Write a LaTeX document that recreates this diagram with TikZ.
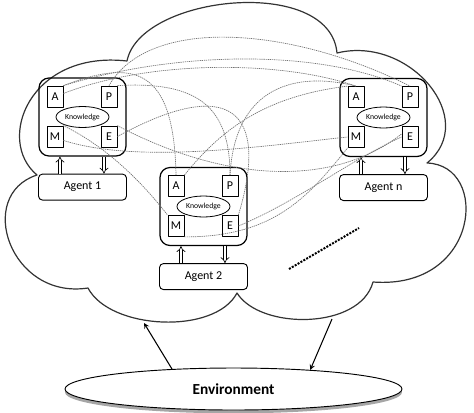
\documentclass[tikz,border=0pt]{standalone}
\usepackage{fontspec}
\setmainfont{Carlito}
\usetikzlibrary{positioning,shapes.geometric,arrows.meta,shadows}

\begin{document}
\begin{tikzpicture}[x=0.75pt, y=-0.75pt, line join=round, >=stealth, font=\small,
	module/.style={draw, line width=0.9pt, rounded corners=7.5pt, minimum width=65.25pt, minimum height=58.5pt},
	part/.style={draw, line width=0.6pt, minimum width=12pt, minimum height=15.75pt, inner sep=0pt, font=\fontsize{9}{9}\selectfont},
	know/.style={draw, ellipse, line width=0.6pt, minimum width=39.75pt, minimum height=15.75pt, inner sep=0pt, font=\fontsize{5.8}{6}\selectfont},
	agentbox/.style={draw, line width=0.7pt, rounded corners=3pt, minimum width=66pt, minimum height=19.5pt, font=\fontsize{9}{9}\selectfont},
	hollow/.style={double, double distance=1.8pt, line width=0.5pt, -{Implies}},
	link/.style={black!55, line width=0.5pt, dash pattern=on 1pt off 0.6pt}]
	\useasboundingbox (0,0) rectangle (474,412);
	% cloud
	\draw[black!80, line width=0.9pt, line cap=round] (127,61) .. controls (140,-5) and (330,-25) .. (337,53)
		.. controls (410,35) and (480,120) .. (427,163)
		.. controls (490,165) and (480,290) .. (373,282)
		.. controls (360,330) and (260,330) .. (237,293)
		.. controls (215,335) and (110,330) .. (88,288)
		.. controls (10,300) and (-25,195) .. (37,175)
		.. controls (-5,140) and (30,50) .. (127,61) -- cycle;
	\coordinate (cl) at (144,323);
	\coordinate (cr) at (332,319);
	% agents
	\foreach \i/\cx/\cy/\txt in {1/82.5/117/Agent 1, 2/203.5/206.5/Agent 2, n/383.5/117.5/Agent n} {
		\node[module] (m\i) at (\cx,\cy) {};
		\node[know] (k\i) at (m\i.center) {Knowledge};
		\node[part] (a\i) at ([shift={(-27.5,-20.5)}]m\i.center) {A};
		\node[part] (p\i) at ([shift={(26.5,-20.5)}]m\i.center) {P};
		\node[part] (mm\i) at ([shift={(-27.5,19.5)}]m\i.center) {M};
		\node[part] (e\i) at ([shift={(26.5,19.5)}]m\i.center) {E};
		\node[agentbox, below=12.75pt of m\i] (ag\i) {\txt};
		\draw[hollow] ([xshift=-16.9pt]ag\i.north) -- ([xshift=-16.9pt]m\i.south);
		\draw[hollow] ([xshift=16.1pt]m\i.south) -- ([xshift=16.1pt]ag\i.north);
	}
	% links between agents
	\draw[link] (p1.north) .. controls (149,16) and (290,26) .. (pn.north);
	\draw[link] (a1.north east) .. controls (180,50) and (320,50) .. (pn.north west);
	\draw[link] (a1.20) .. controls (150,60) and (280,60) .. (an.north);
	\draw[link] (a1.north east) .. controls (133,59) and (174,66) .. (a2.north);
	\draw[link] (p1.north east) .. controls (197,81) and (230,106) .. (p2.north);
	\draw[link] (mm1.north east) .. controls (103,145) and (138,177) .. (mm2.north west);
	\draw[link] (mm1.-25) .. controls (140,165) and (270,145) .. (mmn.west);
	\draw[link] (e1.east) .. controls (230,75) and (270,110) .. (e2.north east);
	\draw[link] (e1.north east) .. controls (220,180) and (330,190) .. (en.160);
	\draw[link] (a2.north east) .. controls (224,126) and (268,96) .. (an.north west);
	\draw[link] (p2.north) .. controls (235,86) and (296,71) .. (an.north);
	\draw[link] (e2.east) .. controls (300,200) and (350,160) .. (en.west);
	\draw[link] (mm2.south east) .. controls (274,237) and (308,197) .. (mmn.south west);
	% more agents
	\draw[line width=1.5pt, dash pattern=on 1.5pt off 1pt] (289,269) -- (359,228);
	% environment
	\node[draw, ellipse, line width=0.7pt, fill=white, minimum width=252.75pt, minimum height=31.5pt,
		drop shadow={shadow xshift=0pt, shadow yshift=-2.5pt, opacity=0.7},
		font=\bfseries\fontsize{11.5}{12}\selectfont] (env) at (233.5,389) {Environment};
	\draw[->, line width=0.8pt] (env.162) -- (cl);
	\draw[->, line width=0.8pt] (cr) -- (env.14.5);
\end{tikzpicture}
\end{document}
